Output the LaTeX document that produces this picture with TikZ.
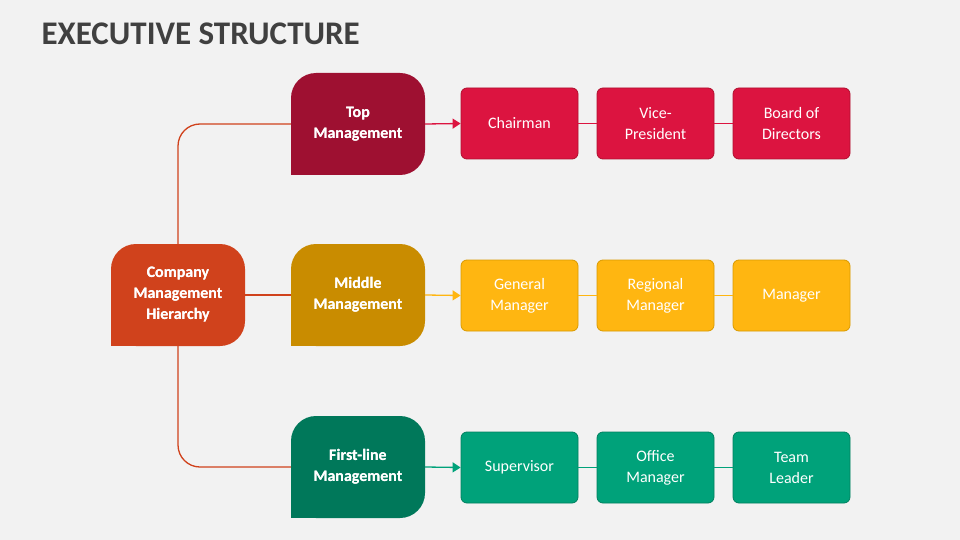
\documentclass[tikz,border=0pt]{standalone}
\usepackage{fontspec}
\setmainfont{Carlito}
\usetikzlibrary{arrows.meta}
\definecolor{bg}{HTML}{F2F2F2}
\definecolor{title}{HTML}{404040}
\definecolor{comp}{HTML}{D0421C}
\definecolor{topd}{HTML}{9E1031}
\definecolor{topl}{HTML}{DC1440}
\definecolor{topb}{HTML}{B0102F}
\definecolor{midd}{HTML}{C98C00}
\definecolor{midl}{HTML}{FFB611}
\definecolor{midb}{HTML}{D99A00}
\definecolor{lowd}{HTML}{00785A}
\definecolor{lowl}{HTML}{00A27A}
\definecolor{lowb}{HTML}{00805F}
\tikzset{
  big/.style={rectangle,rounded corners=25pt,minimum width=134pt,minimum height=102pt,inner sep=0pt,align=center,text=white,font=\fontsize{16}{21}\selectfont\bfseries},
  small/.style={rectangle,rounded corners=6pt,minimum width=117pt,minimum height=71pt,inner sep=0pt,align=center,text=white,font=\fontsize{16}{21}\selectfont,line width=0.8pt},
  link/.style={line width=1.3pt},
  arr/.style={line width=1.3pt,-{Triangle[length=8pt,width=10pt]}}
}
\newcommand{\sqcorner}[2]{\fill[#2] (#1.south west) rectangle ++(26pt,-26pt);}
\begin{document}
\begin{tikzpicture}[x=1pt,y=-1pt]
\fill[bg] (0,0) rectangle (960,540);
\useasboundingbox (0,0) rectangle (960,540);
\node[anchor=west,text=title,font=\fontsize{33}{36}\selectfont\bfseries] (t) at (38,34) {EXECUTIVE STRUCTURE};
% boxes
\node[big,fill=comp] (comp) at (178,295) {Company\\Management\\Hierarchy};
\node[big,fill=topd] (top) at (358,124) {Top\\Management};
\node[big,fill=midd] (mid) at (358,295) {Middle\\Management};
\node[big,fill=lowd] (low) at (358,467) {First-line\\Management};
% connectors
\draw[link,comp,rounded corners=22pt] (comp.north) |- (top.west);
\draw[link,comp,rounded corners=22pt] (comp.south) |- (low.west);
\draw[link,comp] (comp.east) -- (mid.west);
% square corners
\fill[comp] (111,346) rectangle (137,320);
\fill[topd] (291,175) rectangle (317,149);
\fill[midd] (291,346) rectangle (317,320);
\fill[lowd] (291,518) rectangle (317,492);
\node[big] at (comp) {Company\\Management\\Hierarchy};
\node[big] at (top) {Top\\Management};
\node[big] at (mid) {Middle\\Management};
\node[big] at (low) {First-line\\Management};
% right boxes
\node[small,fill=topl,draw=topb] (a1) at (519.5,123.5) {Chairman};
\node[small,fill=topl,draw=topb] (a2) at (655.5,123.5) {Vice-\\President};
\node[small,fill=topl,draw=topb] (a3) at (791.5,123.5) {Board of\\Directors};
\node[small,fill=midl,draw=midb] (b1) at (519.5,295.5) {General\\Manager};
\node[small,fill=midl,draw=midb] (b2) at (655.5,295.5) {Regional\\Manager};
\node[small,fill=midl,draw=midb] (b3) at (791.5,295.5) {Manager};
\node[small,fill=lowl,draw=lowb] (c1) at (519.5,467.5) {Supervisor};
\node[small,fill=lowl,draw=lowb] (c2) at (655.5,467.5) {Office\\Manager};
\node[small,fill=lowl,draw=lowb] (c3) at (791.5,467.5) {Team\\Leader};
\draw[arr,topl] (top.east) -- (a1.west);
\draw[arr,midl] (mid.east) -- (b1.west);
\draw[arr,lowl] (low.east) -- (c1.west);
\draw[link,topl] (a1.east) -- (a2.west) (a2.east) -- (a3.west);
\draw[link,midl] (b1.east) -- (b2.west) (b2.east) -- (b3.west);
\draw[link,lowl] (c1.east) -- (c2.west) (c2.east) -- (c3.west);
\end{tikzpicture}
\end{document}
